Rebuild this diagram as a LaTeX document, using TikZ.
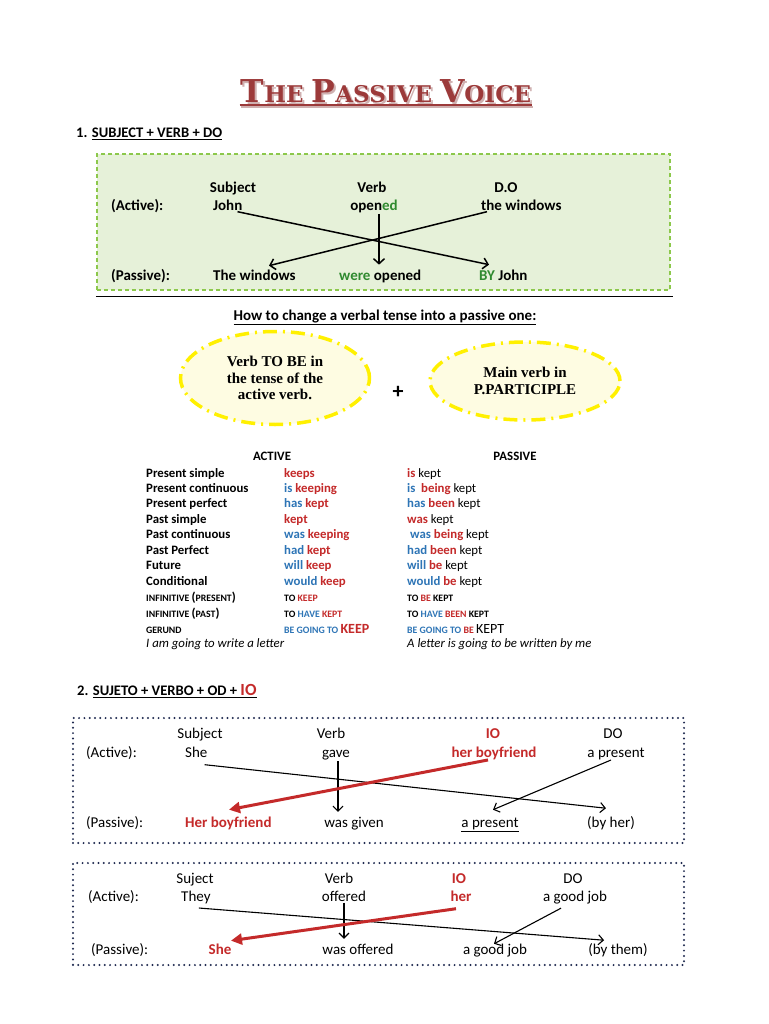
\documentclass[tikz,border=0pt]{standalone}
\usepackage{fontspec}
\setmainfont{Carlito}
\newfontfamily\titlefont{DejaVu Serif}
\newfontfamily\ellfont{Liberation Serif}
\usetikzlibrary{arrows.meta,shapes.geometric}
\definecolor{rd}{HTML}{C42A2A}
\definecolor{bl}{HTML}{2E75B6}
\definecolor{gtx}{HTML}{2F8A2F}
\definecolor{tred}{HTML}{9C3A3A}
\definecolor{tshadow}{HTML}{CFB0B0}
\definecolor{gfill}{HTML}{E6F1D9}
\definecolor{gline}{HTML}{8CC84B}
\definecolor{ylw}{HTML}{FFF000}
\definecolor{yfill}{HTML}{FEFCE2}
\definecolor{navy}{HTML}{1F2A50}
\newcommand\Rd[1]{\textcolor{rd}{#1}}
\newcommand\Bl[1]{\textcolor{bl}{#1}}
\newcommand\Gr[1]{\textcolor{gtx}{#1}}
\newcommand\smc[1]{{\fontsize{9.8}{11}\selectfont #1}}
\newcommand\bgc[1]{{\fontsize{12.8}{15}\selectfont #1}}
\newcommand\TitleText{{\fontsize{31.5}{31.5}\selectfont T}{\fontsize{23}{23}\selectfont HE }{\fontsize{31.5}{31.5}\selectfont P}{\fontsize{23}{23}\selectfont ASSIVE }{\fontsize{31.5}{31.5}\selectfont V}{\fontsize{23}{23}\selectfont OICE}}
\begin{document}
\begin{tikzpicture}[x=1pt,y=-1pt,
  hb/.style={font=\fontsize{15}{18}\selectfont\bfseries, anchor=mid, inner sep=1pt, yshift=-3pt},
  hbw/.style={hb, anchor=mid west},
  rg/.style={font=\fontsize{15}{18}\selectfont, anchor=mid, inner sep=1pt, yshift=-3pt},
  rgw/.style={rg, anchor=mid west},
  tb/.style={font=\fontsize{12.8}{15}\selectfont\bfseries, anchor=mid west, inner sep=0pt, yshift=-3pt},
  titlest/.style={font=\titlefont\bfseries, text=tred, inner sep=1pt, anchor=mid},
  gbox/.style={draw=gline, fill=gfill, line width=2.5pt, dash pattern=on 4pt off 3pt},
  dbox/.style={draw=navy, line width=2.2pt, line cap=round, dash pattern=on 0pt off 5.3pt},
  ellst/.style={ellipse, draw=ylw, fill=yfill, line width=3.5pt, dash pattern=on 14pt off 6pt on 2pt off 6pt, align=center, inner sep=0pt, font=\ellfont\bfseries\fontsize{15}{16.5}\selectfont},
  arA/.style={line width=1.5pt, -{Straight Barb[length=5pt,width=11pt]}},
  arB/.style={line width=1.1pt, -{Straight Barb[length=5pt,width=10pt]}},
  arR/.style={draw=rd, line width=3pt, -{Triangle[length=11pt,width=11pt]}}]
\fill[white] (0,0) rectangle (768,1024);
\useasboundingbox (0,0) rectangle (768,1024);

% ---------- title
\node[titlest, text=tshadow] (tshad) at (388,102) {\TitleText};
\node[titlest] (title) at (386,100) {\TitleText};
\draw[tshadow, line width=1.6pt] ([xshift=1pt,yshift=-3pt]title.south west) -- ([xshift=1pt,yshift=-3pt]title.south east);
\draw[tred, line width=1.6pt] ([yshift=-1pt]title.south west) -- ([yshift=-1pt]title.south east);

% ---------- section 1
\node[hbw, font=\fontsize{14.6}{16}\selectfont\bfseries] (h1) at (75,132) {1. \underline{SUBJECT + VERB + DO}};
\node[gbox, minimum width=573pt, minimum height=136pt] (box1) at (383.5,222) {};
\draw[line width=1pt] ([yshift=-5pt]box1.south west) -- ([xshift=2pt,yshift=-5pt]box1.south east);

\node[hb] (sub1) at (233,187) {Subject};
\node[hb] (verb1) at (372,187) {Verb};
\node[hb] (do1) at (506,187) {D.O};
\node[hbw] (act1) at (110,205) {(Active):};
\node[hbw] (john) at (212,205) {John};
\node[hb] (opened) at (374,205) {open\Gr{ed}};
\node[hbw] (thewin) at (480,205) {the windows};
\node[hbw] (pas1) at (110,275) {(Passive):};
\node[hbw] (Thewin) at (212,275) {The windows};
\node[hbw] (wereop) at (338,275) {\Gr{were} opened};
\node[hbw] (byjohn) at (478,275) {\Gr{BY} John};

\draw[arA] ([xshift=-6pt,yshift=0pt]john.south east) -- ([xshift=11pt,yshift=4pt]byjohn.north west);
\draw[arA] ([xshift=5pt]opened.south) -- ([xshift=5pt,yshift=4pt]opened.south |- wereop.north);
\draw[arA] ([xshift=7pt,yshift=0pt]thewin.south west) -- ([xshift=57pt,yshift=3pt]Thewin.north west);

% ---------- how to change
\node[hb] (howto) at (385,315) {\underline{How to change a verbal tense into a passive one:}};
\node[ellst, minimum width=189pt, minimum height=93pt] (ellA) at (275,378) {Verb TO BE in\\the tense of the\\active verb.};
\node[ellst, minimum width=190pt, minimum height=78pt] (ellB) at (525,381) {Main verb in\\P.PARTICIPLE};
\node[hb, font=\fontsize{22}{22}\selectfont\bfseries] (plus) at (398,393) {+};

% ---------- table
\node[tb, anchor=mid] (tact) at (272,455) {ACTIVE};
\node[tb, anchor=mid] (tpas) at (515,455) {PASSIVE};

\node[tb] (r1a) at (146,472) {Present simple};
\node[tb] (r1b) at (284,472) {\Rd{keeps}};
\node[tb] (r1c) at (407,472) {\Rd{is} \mdseries kept};
\node[tb] (r2a) at (146,487) {Present continuous};
\node[tb] (r2b) at (284,487) {\Bl{is} \Rd{keeping}};
\node[tb] (r2c) at (407,487) {\Bl{is}\ \ \Rd{being} \mdseries kept};
\node[tb] (r3a) at (146,502) {Present perfect};
\node[tb] (r3b) at (284,502) {\Bl{has} \Rd{kept}};
\node[tb] (r3c) at (407,502) {\Bl{has} \Rd{been} \mdseries kept};
\node[tb] (r4a) at (146,518) {Past simple};
\node[tb] (r4b) at (284,518) {\Rd{kept}};
\node[tb] (r4c) at (407,518) {\Rd{was} \mdseries kept};
\node[tb] (r5a) at (146,533) {Past continuous};
\node[tb] (r5b) at (284,533) {\Bl{was} \Rd{keeping}};
\node[tb] (r5c) at (410,533) {\Bl{was} \Rd{being} \mdseries kept};
\node[tb] (r6a) at (146,549) {Past Perfect};
\node[tb] (r6b) at (284,549) {\Bl{had} \Rd{kept}};
\node[tb] (r6c) at (407,549) {\Bl{had} \Rd{been} \mdseries kept};
\node[tb] (r7a) at (146,564) {Future};
\node[tb] (r7b) at (284,564) {\Bl{will} \Rd{keep}};
\node[tb] (r7c) at (407,564) {\Bl{will} \Rd{be} \mdseries kept};
\node[tb] (r8a) at (146,580) {Conditional};
\node[tb] (r8b) at (284,580) {\Bl{would} \Rd{keep}};
\node[tb] (r8c) at (407,580) {\Bl{would} \Rd{be} \mdseries kept};
\node[tb] (r9a) at (146,596) {\smc{INFINITIVE }\bgc{(}\smc{PRESENT}\bgc{)}};
\node[tb] (r9b) at (284,596) {\smc{TO \Rd{KEEP}}};
\node[tb] (r9c) at (407,596) {\smc{TO \Rd{BE} KEPT}};
\node[tb] (r10a) at (146,612) {\smc{INFINITIVE }\bgc{(}\smc{PAST}\bgc{)}};
\node[tb] (r10b) at (284,612) {\smc{TO \Bl{HAVE} \Rd{KEPT}}};
\node[tb] (r10c) at (407,612) {\smc{TO \Bl{HAVE} \Rd{BEEN} KEPT}};
\node[tb] (r11a) at (146,628) {\smc{GERUND}};
\node[tb] (r11b) at (284,628) {\smc{\Bl{BE GOING TO} }\Rd{\fontsize{14}{15}\selectfont KEEP}};
\node[tb] (r11c) at (407,628) {\smc{\Bl{BE GOING TO} \Rd{BE} }{\mdseries\fontsize{14}{15}\selectfont KEPT}};
\node[tb, font=\fontsize{12.8}{15}\selectfont\itshape] (r12a) at (146,642) {I am going to write a letter};
\node[tb, font=\fontsize{12.8}{15}\selectfont\itshape] (r12c) at (407,642) {A letter is going to be written by me};

% ---------- section 2
\node[hbw, font=\fontsize{14.6}{16}\selectfont\bfseries] (h2) at (76,690) {2. \underline{SUJETO + VERBO + OD + \Rd{\fontsize{17}{17}\selectfont IO}}};

\node[dbox, minimum width=611pt, minimum height=125pt] (box2) at (378.5,780.5) {};
\node[rg] (sub2) at (200,733) {Subject};
\node[rg] (verb2) at (331,733) {Verb};
\node[hb, text=rd] (io2) at (493,733) {IO};
\node[rg] (do2) at (613,733) {DO};
\node[rgw] (act2) at (85,752) {(Active):};
\node[rgw] (she) at (184,752) {She};
\node[rg] (gave) at (336,752) {gave};
\node[hb, text=rd] (hbf) at (494,752) {her boyfriend};
\node[rg] (apres) at (616,752) {a present};
\node[rgw] (pas2) at (85,822) {(Passive):};
\node[hbw, text=rd] (Hbf) at (184,822) {Her boyfriend};
\node[rg] (wgiven) at (354,822) {was given};
\node[rg] (apres2) at (490,822) {\underline{a present}};
\node[rg] (byher) at (611,822) {(by her)};

\draw[arB] ([xshift=-4pt,yshift=-6pt]she.south east) -- ([xshift=20pt,yshift=7pt]byher.north west);
\draw[arB] ([xshift=2pt]gave.south) -- ([xshift=2pt,yshift=4pt]gave.south |- wgiven.north);
\draw[arR] ([xshift=-6pt,yshift=1pt]hbf.south) -- ([xshift=45pt,yshift=6pt]Hbf.north west);
\draw[arB] ([xshift=-5pt,yshift=1pt]apres.south) -- ([xshift=3pt,yshift=7pt]apres2.north);

% ---------- box 3
\node[dbox, minimum width=611pt, minimum height=102pt] (box3) at (378.5,914) {};
\node[rg] (sub3) at (195,878) {Suject};
\node[rg] (verb3) at (339,878) {Verb};
\node[hb, text=rd] (io3) at (459,878) {IO};
\node[rg] (do3) at (573,878) {DO};
\node[rgw] (act3) at (87,896) {(Active):};
\node[rgw] (they) at (180,896) {They};
\node[rg] (offered) at (344,896) {offered};
\node[hb, text=rd] (her3) at (461,896) {her};
\node[rg] (agj) at (575,896) {a good job};
\node[rgw] (pas3) at (90,949) {(Passive):};
\node[hb, text=rd] (she3) at (220,949) {She};
\node[rg] (woff) at (358,949) {was offered};
\node[rg] (agj2) at (495,949) {a good job};
\node[rg] (bythem) at (618,949) {(by them)};

\draw[arB] ([xshift=3pt,yshift=-3pt]they.south) -- ([xshift=17pt,yshift=2pt]bythem.north west);
\draw[arB] (offered.south) -- ([yshift=4pt]offered.south |- woff.north);
\draw[arR] ([xshift=-5pt,yshift=-6pt]her3.south) -- ([xshift=11pt,yshift=2pt]she3.north);
\draw[arB] ([xshift=-14pt,yshift=-3pt]agj.south) -- ([xshift=-1pt,yshift=-1pt]agj2.north);
\end{tikzpicture}
\end{document}
